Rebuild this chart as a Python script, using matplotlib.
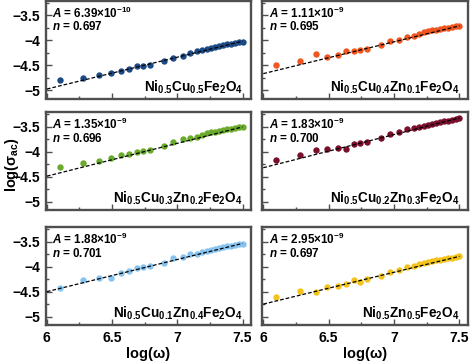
import matplotlib
matplotlib.use("Agg")
import matplotlib.pyplot as plt
from matplotlib.ticker import MultipleLocator

plt.rcParams['font.family'] = ['Liberation Sans', 'DejaVu Sans']
plt.rcParams['font.weight'] = 'bold'
plt.rcParams['mathtext.fontset'] = 'custom'
plt.rcParams['mathtext.rm'] = 'Liberation Sans:bold'
plt.rcParams['mathtext.it'] = 'Liberation Sans:bold:italic'
plt.rcParams['mathtext.bf'] = 'Liberation Sans:bold'
plt.rcParams['mathtext.default'] = 'it'

# ---------------- data ----------------
log_w = [6.10, 6.28, 6.40, 6.49, 6.57, 6.63, 6.69, 6.74, 6.79, 6.90, 6.97, 7.04, 7.10,
         7.15, 7.19, 7.23, 7.26, 7.29, 7.32, 7.35, 7.38, 7.41, 7.44, 7.47, 7.50]

sig_cu05 = [-4.80, -4.76, -4.70, -4.65, -4.61, -4.58, -4.52, -4.52, -4.49, -4.42, -4.35, -4.31, -4.25,
            -4.22, -4.20, -4.17, -4.15, -4.13, -4.11, -4.10, -4.08, -4.07, -4.05, -4.04, -4.03]
sig_zn01 = [-4.50, -4.42, -4.28, -4.33, -4.30, -4.22, -4.21, -4.19, -4.17, -4.10, -4.02, -3.99, -3.93,
            -3.91, -3.87, -3.84, -3.82, -3.80, -3.79, -3.77, -3.76, -3.75, -3.73, -3.72, -3.71]
sig_zn02 = [-4.30, -4.23, -4.18, -4.12, -4.06, -4.05, -4.00, -3.98, -3.96, -3.89, -3.81, -3.74, -3.72,
            -3.70, -3.66, -3.63, -3.61, -3.60, -3.58, -3.56, -3.55, -3.54, -3.52, -3.51, -3.50]
sig_zn03 = [-4.16, -4.07, -3.97, -3.95, -3.92, -3.95, -3.84, -3.82, -3.80, -3.73, -3.64, -3.61, -3.55,
            -3.53, -3.51, -3.48, -3.46, -3.44, -3.42, -3.41, -3.39, -3.38, -3.36, -3.35, -3.33]
sig_zn04 = [-4.42, -4.27, -4.23, -4.23, -4.13, -4.09, -4.03, -4.01, -3.98, -3.93, -3.83, -3.80, -3.75,
            -3.74, -3.70, -3.68, -3.66, -3.64, -3.62, -3.61, -3.59, -3.58, -3.56, -3.55, -3.54]
sig_zn05 = [-4.60, -4.49, -4.50, -4.40, -4.39, -4.35, -4.27, -4.30, -4.25, -4.19, -4.10, -4.07, -4.01,
            -3.98, -3.95, -3.93, -3.91, -3.89, -3.87, -3.86, -3.85, -3.83, -3.82, -3.81, -3.79]

fit_x = [6.0, 7.5]
fit_cu05 = [-4.98, -4.02]
fit_zn01 = [-4.67, -3.71]
fit_zn02 = [-4.49, -3.50]
fit_zn03 = [-4.32, -3.32]
fit_zn04 = [-4.50, -3.53]
fit_zn05 = [-4.75, -3.79]

A_labels = ['6.39×10$^{-10}$', '1.11×10$^{-9}$', '1.35×10$^{-9}$',
            '1.83×10$^{-9}$', '1.88×10$^{-9}$', '2.95×10$^{-9}$']
n_labels = ['0.697', '0.695', '0.696', '0.700', '0.701', '0.697']
samples = ['Ni$_{0.5}$Cu$_{0.5}$Fe$_{2}$O$_{4}$',
           'Ni$_{0.5}$Cu$_{0.4}$Zn$_{0.1}$Fe$_{2}$O$_{4}$',
           'Ni$_{0.5}$Cu$_{0.3}$Zn$_{0.2}$Fe$_{2}$O$_{4}$',
           'Ni$_{0.5}$Cu$_{0.2}$Zn$_{0.3}$Fe$_{2}$O$_{4}$',
           'Ni$_{0.5}$Cu$_{0.1}$Zn$_{0.4}$Fe$_{2}$O$_{4}$',
           'Ni$_{0.5}$Zn$_{0.5}$Fe$_{2}$O$_{4}$']
colors = ['#1b4a86', '#f0561f', '#6aab2c', '#7a0f2c', '#86c3ef', '#f3c31c']

series = [sig_cu05, sig_zn01, sig_zn02, sig_zn03, sig_zn04, sig_zn05]
fits = [fit_cu05, fit_zn01, fit_zn02, fit_zn03, fit_zn04, fit_zn05]

# ---------------- layout ----------------
W, H = 474, 364
fig = plt.figure(figsize=(W / 100, H / 100), dpi=100)

col_x = [(45.5, 251.0), (262.0, 468.0)]
row_y = [(0.5, 98.5), (112.0, 210.0), (227.0, 325.0)]
frame = '#4f4f4f'

for i in range(6):
    r, c = divmod(i, 2)
    x0, x1 = col_x[c]
    yt, yb = row_y[r]
    ax = fig.add_axes([x0 / W, 1 - yb / H, (x1 - x0) / W, (yb - yt) / H])
    ax.plot(log_w, series[i], 'o', color=colors[i], ms=4.6, mec='none', zorder=2)
    ax.plot(fit_x, fits[i], '--', color='black', lw=0.9, dashes=(3, 1.6), zorder=3)
    ax.set_xlim(5.99, 7.565)
    ax.set_ylim(-5.17, -3.2)
    ax.xaxis.set_major_locator(MultipleLocator(0.5))
    ax.xaxis.set_minor_locator(MultipleLocator(0.25))
    ax.yaxis.set_major_locator(MultipleLocator(0.5))
    ax.yaxis.set_minor_locator(MultipleLocator(0.25))
    ax.tick_params(which='both', direction='in', color=frame, width=1, labelsize=10,
                   top=False, right=False)
    ax.tick_params(which='major', length=4, pad=4)
    ax.tick_params(which='minor', length=2.5)
    for s in ax.spines.values():
        s.set_color(frame)
        s.set_linewidth(1.7)
    if c == 1:
        ax.tick_params(labelleft=False)
    else:
        ax.set_yticks([-3.5, -4, -4.5, -5])
        ax.set_yticklabels(['\u22123.5', '\u22124', '\u22124.5', '\u22125'])
    if r < 2:
        ax.tick_params(labelbottom=False)
    else:
        ax.set_xticks([6, 6.5, 7, 7.5])
        ax.set_xticklabels(['6', '6.5', '7', '7.5'])
        ax.set_xlabel('log(ω)', fontsize=10.5, fontweight='bold', labelpad=2)
    ax.annotate('$A$ = ' + A_labels[i], xy=(0, 1), xycoords='axes fraction',
                xytext=(7, -12.5), textcoords='offset pixels', ha='left', va='center',
                fontsize=8.4, fontweight='bold')
    ax.annotate('$n$ = ' + n_labels[i], xy=(0, 1), xycoords='axes fraction',
                xytext=(7, -26.5), textcoords='offset pixels', ha='left', va='center',
                fontsize=8.4, fontweight='bold')
    ax.annotate(samples[i], xy=(1, 0), xycoords='axes fraction',
                xytext=(-8, 3), textcoords='offset pixels', ha='right', va='bottom',
                fontsize=9.8, fontweight='bold')

fig.text(12 / W, 1 - 165 / H, 'log(σ$_{\\mathrm{ac}}$)', rotation=90, ha='center', va='center',
         fontsize=10.5, fontweight='bold')

fig.savefig('out.png', dpi=100)
